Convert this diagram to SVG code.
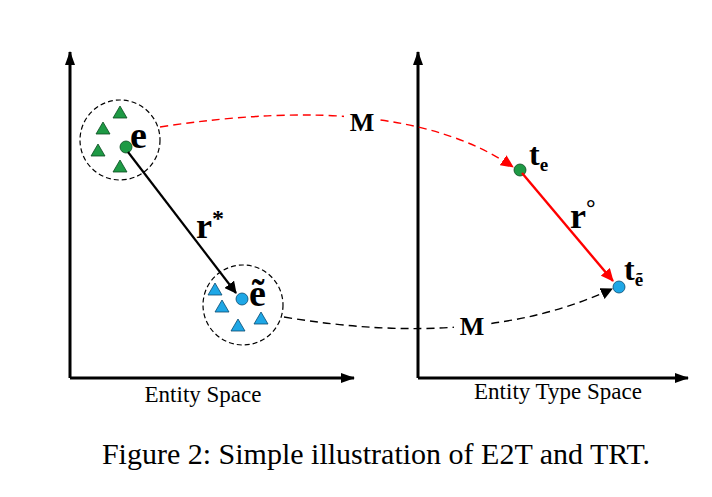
<svg xmlns="http://www.w3.org/2000/svg" width="712" height="497" viewBox="0 0 712 497">
<style>
.ax{stroke:#000;stroke-width:3;fill:none}
.cl{stroke:#000;stroke-width:1.2;stroke-dasharray:5,3;fill:none}
.g{fill:#1e9a45;stroke:#0a4a20;stroke-width:0.8}
.b{fill:#1ea7e6;stroke:#0a4a70;stroke-width:0.8}
.lb{font-family:"Liberation Serif",serif;font-weight:bold;fill:#000}
.tx{font-family:"Liberation Serif",serif;fill:#000}
</style>
<defs>
<marker id="ak" markerWidth="12" markerHeight="12" refX="11" refY="6" orient="auto" markerUnits="userSpaceOnUse"><path d="M0,0 L12,6 L0,12 z" fill="#000"/></marker>
<marker id="ar" markerWidth="13" markerHeight="12" refX="12" refY="6" orient="auto" markerUnits="userSpaceOnUse"><path d="M0,0 L13,6 L0,12 z" fill="#f00"/></marker>
<marker id="ax" markerWidth="14" markerHeight="10" refX="13" refY="5" orient="auto" markerUnits="userSpaceOnUse"><path d="M0,0 L14,5 L0,10 z" fill="#000"/></marker>
</defs>
<g id="axes">
<path class="ax" d="M70,378 V52" marker-end="url(#ax)"/>
<path class="ax" d="M70,378 H354" marker-end="url(#ax)"/>
<path class="ax" d="M418,378 V52" marker-end="url(#ax)"/>
<path class="ax" d="M418,378 H688" marker-end="url(#ax)"/>
<text class="tx" x="203" y="402" font-size="23" text-anchor="middle">Entity Space</text>
<text class="tx" x="558" y="399" font-size="23" text-anchor="middle">Entity Type Space</text>
</g>
<g id="node-e">
<circle class="cl" cx="120" cy="140" r="40"/>
<path class="g" d="M120,106 l7,12 h-14z M103,122 l7,12 h-14z M98,144 l7,12 h-14z M120,160 l7,12 h-14z"/>
<circle class="g" cx="126" cy="147" r="6"/>
<text class="lb" x="130" y="148" font-size="38">e</text>
</g>
<g id="node-etilde">
<circle class="cl" cx="243" cy="305" r="40"/>
<path class="b" d="M215,283 l7,12 h-14z M222,300 l7,12 h-14z M238,319 l7,12 h-14z M261,312 l7,12 h-14z"/>
<circle class="b" cx="242" cy="299" r="6"/>
<text class="lb" x="249" y="306" font-size="38">ẽ</text>
</g>
<g id="node-te">
<circle class="g" cx="520" cy="170" r="6"/>
<text class="lb" x="529" y="165" font-size="32">t<tspan font-size="19" dy="6">e</tspan></text>
</g>
<g id="node-tetilde">
<circle class="b" cx="619" cy="287" r="6"/>
<text class="lb" x="624" y="280" font-size="32">t<tspan font-size="19" dy="6">ẽ</tspan></text>
</g>
<g id="connectors">
<path d="M128,152 L236,293" stroke="#000" stroke-width="2.2" fill="none" marker-end="url(#ak)"/>
<text class="lb" x="196" y="238" font-size="36">r<tspan font-size="24" dy="-12">*</tspan></text>
<path d="M522,173 L613,281" stroke="#f00" stroke-width="2.4" fill="none" marker-end="url(#ar)"/>
<text class="lb" x="570" y="228" font-size="36">r<tspan font-size="24" dy="-12">°</tspan></text>
<path d="M160,127 Q400,90 513,167" stroke="#f00" stroke-width="1.4" stroke-dasharray="8,5" fill="none" marker-end="url(#ar)"/>
<rect x="344" y="110" width="36" height="24" fill="#fff"/>
<text class="lb" x="362" y="131" font-size="26" text-anchor="middle">M</text>
<path d="M284,317 Q480,350 612,289" stroke="#000" stroke-width="1.4" stroke-dasharray="8,5" fill="none" marker-end="url(#ak)"/>
<rect x="454" y="314" width="36" height="24" fill="#fff"/>
<text class="lb" x="472" y="335" font-size="26" text-anchor="middle">M</text>
</g>
<text class="tx" x="376" y="464" font-size="30" text-anchor="middle">Figure 2: Simple illustration of E2T and TRT.</text>
</svg>
